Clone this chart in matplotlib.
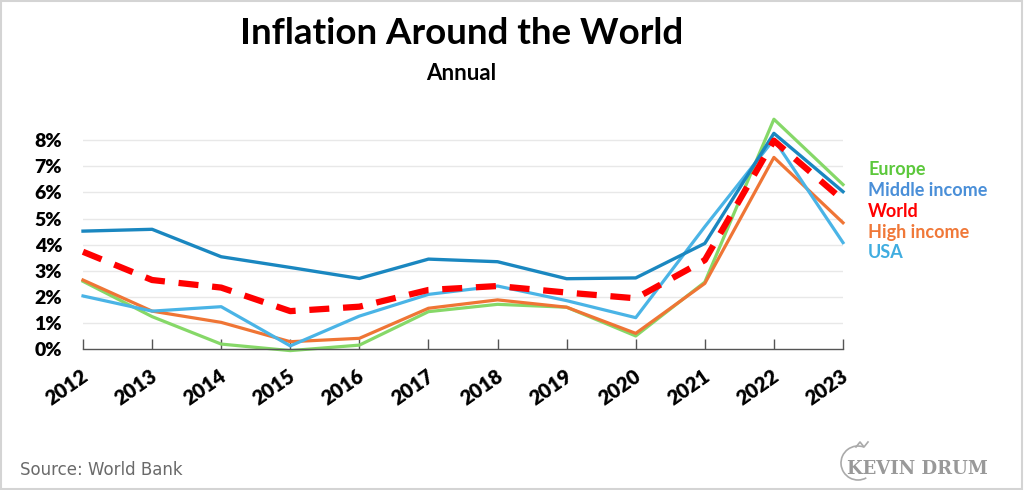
import matplotlib.pyplot as plt
import matplotlib.transforms as mtransforms
from matplotlib.patches import Rectangle, Arc

# --- dados ---
anos = [2012, 2013, 2014, 2015, 2016, 2017, 2018, 2019, 2020, 2021, 2022, 2023]
europa = [2.6, 1.25, 0.2, -0.05, 0.16, 1.44, 1.72, 1.61, 0.51, 2.57, 8.8, 6.3]
renda_media = [4.52, 4.59, 3.54, 3.13, 2.71, 3.45, 3.35, 2.7, 2.73, 4.05, 8.26, 6.03]
mundo = [3.73, 2.65, 2.36, 1.46, 1.63, 2.27, 2.42, 2.17, 1.95, 3.41, 7.98, 5.71]
renda_alta = [2.65, 1.46, 1.03, 0.29, 0.42, 1.57, 1.89, 1.61, 0.61, 2.52, 7.34, 4.84]
eua = [2.04, 1.46, 1.63, 0.13, 1.27, 2.1, 2.42, 1.86, 1.21, 4.69, 8.03, 4.08]

y_ticks = [0, 1, 2, 3, 4, 5, 6, 7, 8]
y_labels = [f"{v}%" for v in y_ticks]

legenda = ["Europe", "Middle income", "World", "High income", "USA"]
cores_legenda = ["#5cc83c", "#4a8fd8", "#ff0000", "#f07838", "#40ade0"]

fonte = "Lato"

fig = plt.figure(figsize=(10.24, 4.9), dpi=100)
ax = fig.add_axes([83 / 1024, 1 - 349.3 / 490, 760 / 1024, (349.3 - 114) / 490])

ax.plot(anos, europa, color="#86d868", lw=2.3, zorder=2, clip_on=False)
ax.plot(anos, renda_alta, color="#ef7535", lw=2.3, zorder=3, clip_on=False)
ax.plot(anos, eua, color="#4ab4e6", lw=2.3, zorder=4, clip_on=False)
ax.plot(anos, renda_media, color="#1a87c0", lw=2.4, zorder=5, clip_on=False)
ax.plot(anos, mundo, color="#ff0000", lw=4.5, ls=(0, (3.2, 2.2)), zorder=6, clip_on=False)

ax.set_xlim(2012, 2023)
ax.set_ylim(0, 9)

ax.set_yticks(y_ticks)
ax.set_yticklabels(y_labels)
ax.set_xticks(anos)
ax.set_xticklabels([str(a) for a in anos], rotation=35, ha="right", va="center",
                   rotation_mode="anchor")

for s in ["top", "right", "left"]:
    ax.spines[s].set_visible(False)
ax.spines["bottom"].set_color("#555555")
ax.spines["bottom"].set_linewidth(1.0)

ax.tick_params(axis="y", length=0, pad=15)
ax.tick_params(axis="x", direction="in", length=7, color="#555555", width=1, pad=18)
for lab in ax.get_yticklabels():
    lab.set_fontfamily(fonte)
    lab.set_fontweight("heavy")
    lab.set_fontsize(14)
desloc = mtransforms.ScaledTranslation(3 / 100, 0, fig.dpi_scale_trans)
for lab in ax.get_xticklabels():
    lab.set_fontfamily(fonte)
    lab.set_fontweight("heavy")
    lab.set_fontsize(14.5)
    lab.set_transform(lab.get_transform() + desloc)

for v in y_ticks[1:]:
    ax.axhline(v, color="#e8e8e8", lw=1, zorder=0)

# legenda em texto
for i, (nome, cor) in enumerate(zip(legenda, cores_legenda)):
    fig.text(868 / 1024, 1 - (170 + i * 20.7) / 490, nome, color=cor, fontsize=13,
             fontweight="bold", family=fonte, va="center", ha="left")

fig.text(462 / 1024, 1 - 34 / 490, "Inflation Around the World", ha="center", va="center",
         fontsize=26.5, fontweight="bold", family=fonte)
fig.text(461 / 1024, 1 - 73 / 490, "Annual", ha="center", va="center",
         fontsize=16, fontweight="bold", family=fonte)

fig.text(20 / 1024, 1 - 470 / 490, "Source: World Bank", ha="left", va="center",
         fontsize=12, color="#6a6a6a", family="DejaVu Sans")
fig.text(988 / 1024, 1 - 469 / 490, "KEVIN DRUM", ha="right", va="center",
         fontsize=13, color="#999999", family="DejaVu Serif", fontweight="bold")
# contorno simples do gato do logotipo
fig.patches.append(Arc((858 / 1024, 1 - 463 / 490), 34 / 1024, 34 / 490, theta1=80, theta2=285,
                       transform=fig.transFigure, color="#aaaaaa", lw=1.2))
fig.lines.append(plt.Line2D([856 / 1024, 860 / 1024, 864 / 1024, 868 / 1024],
                            [1 - 447 / 490, 1 - 442 / 490, 1 - 447 / 490, 1 - 442 / 490],
                            transform=fig.transFigure, color="#aaaaaa", lw=1.2))

fig.patches.append(Rectangle((0.001, 0.002), 0.997, 0.995, transform=fig.transFigure,
                             fill=False, edgecolor="#d4d4d4", lw=1.5))

fig.savefig("out.png", dpi=100, facecolor="white")
